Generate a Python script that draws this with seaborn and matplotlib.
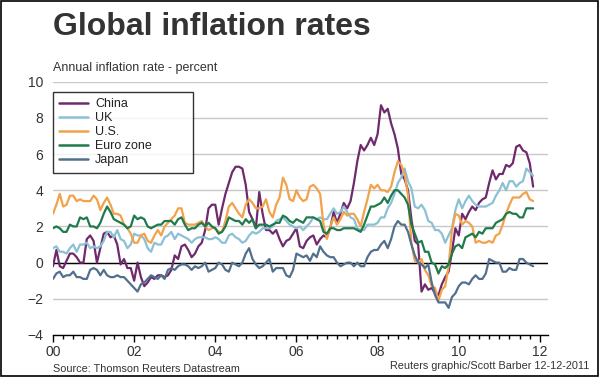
import matplotlib
matplotlib.use("Agg")
import matplotlib.pyplot as plt
from matplotlib.patches import Rectangle
from matplotlib.ticker import MultipleLocator
import numpy as np
import pandas as pd
import seaborn as sns

sns.set_theme(style="white")
plt.rcParams['font.family'] = ['Liberation Sans', 'DejaVu Sans']

# monthly annual inflation rates, Jan 2000 - Nov 2011
china = [-0.2, 0.7, -0.2, -0.3, 0.1, 0.5, 0.5, 0.3, 0.0, 0.0, 1.3, 1.5,
         1.2, 0.0, 0.8, 1.6, 1.7, 1.4, 1.5, 1.0, -0.1, 0.2, -0.3, -0.3,
         -1.0, 0.0, -0.8, -1.3, -1.1, -0.8, -0.9, -0.7, -0.7, -0.8, -0.7, -0.4,
         0.4, 0.2, 0.9, 1.0, 0.7, 0.3, 0.5, 0.9, 1.1, 1.8, 3.0, 3.2,
         3.2, 2.1, 3.0, 3.8, 4.4, 5.0, 5.3, 5.3, 5.2, 4.3, 2.8, 2.4,
         1.9, 3.9, 2.7, 1.8, 1.8, 1.6, 1.8, 1.3, 0.9, 1.2, 1.3, 1.6,
         1.9, 0.9, 0.8, 1.2, 1.4, 1.5, 1.0, 1.3, 1.5, 1.4, 1.9, 2.8,
         2.2, 2.7, 3.3, 3.0, 3.4, 4.4, 5.6, 6.5, 6.2, 6.5, 6.9, 6.5,
         7.1, 8.7, 8.3, 8.5, 7.7, 7.1, 6.3, 4.9, 4.6, 4.0, 2.4, 1.2,
         1.0, -1.6, -1.2, -1.5, -1.4, -1.7, -1.8, -1.2, -0.8, -0.5, 0.6, 1.9,
         1.5, 2.7, 2.4, 2.8, 3.1, 2.9, 3.3, 3.5, 3.6, 4.4, 5.1, 4.6,
         4.9, 4.9, 5.4, 5.3, 5.5, 6.4, 6.5, 6.2, 6.1, 5.5, 4.2]
uk = [0.8, 0.9, 0.6, 0.6, 0.5, 0.8, 1.0, 0.6, 1.0, 1.0, 1.1, 0.8,
      0.9, 0.8, 0.9, 1.2, 1.7, 1.7, 1.4, 1.8, 1.3, 1.2, 0.8, 1.0,
      1.6, 1.5, 1.5, 1.3, 0.8, 0.6, 1.1, 1.0, 1.0, 1.4, 1.5, 1.7,
      1.3, 1.6, 1.5, 1.4, 1.3, 1.1, 1.3, 1.4, 1.4, 1.4, 1.3, 1.3,
      1.4, 1.3, 1.1, 1.1, 1.5, 1.6, 1.4, 1.3, 1.1, 1.2, 1.5, 1.7,
      1.6, 1.7, 1.9, 1.9, 1.9, 2.0, 2.3, 2.4, 2.5, 2.3, 2.1, 2.0,
      1.9, 2.0, 1.8, 2.0, 2.2, 2.5, 2.4, 2.5, 2.4, 2.4, 2.7, 3.0,
      2.7, 2.8, 3.1, 2.8, 2.5, 2.4, 1.9, 1.8, 1.8, 2.1, 2.1, 2.1,
      2.2, 2.5, 2.5, 3.0, 3.3, 3.8, 4.4, 4.7, 5.2, 4.5, 4.1, 3.1,
      3.0, 3.2, 2.9, 2.3, 2.2, 1.8, 1.8, 1.6, 1.1, 1.5, 1.9, 2.9,
      3.5, 3.0, 3.4, 3.7, 3.4, 3.2, 3.1, 3.1, 3.1, 3.2, 3.3, 3.7,
      4.0, 4.4, 4.0, 4.5, 4.5, 4.2, 4.4, 4.5, 5.2, 5.0, 4.8]
us = [2.7, 3.2, 3.8, 3.1, 3.2, 3.7, 3.7, 3.4, 3.5, 3.4, 3.4, 3.4,
      3.7, 3.5, 2.9, 3.3, 3.6, 3.2, 2.7, 2.7, 2.6, 2.1, 1.9, 1.6,
      1.1, 1.1, 1.5, 1.6, 1.2, 1.1, 1.5, 1.8, 1.5, 2.0, 2.2, 2.4,
      2.6, 3.0, 3.0, 2.2, 2.1, 2.1, 2.1, 2.2, 2.3, 2.0, 1.8, 1.9,
      1.9, 1.7, 1.7, 2.3, 3.1, 3.3, 3.0, 2.7, 2.5, 3.2, 3.5, 3.3,
      3.0, 3.0, 3.1, 3.5, 2.8, 2.5, 3.2, 3.6, 4.7, 4.3, 3.5, 3.4,
      4.0, 3.6, 3.4, 3.5, 4.2, 4.3, 4.1, 3.8, 2.1, 1.3, 2.0, 2.5,
      2.1, 2.4, 2.8, 2.6, 2.7, 2.7, 2.4, 2.0, 2.8, 3.5, 4.3, 4.1,
      4.3, 4.0, 4.0, 3.9, 4.2, 5.0, 5.6, 5.4, 4.9, 3.7, 1.1, 0.1,
      0.0, 0.2, -0.4, -0.7, -1.3, -1.4, -2.1, -1.5, -1.3, -0.2, 1.8, 2.7,
      2.6, 2.1, 2.3, 2.2, 2.0, 1.1, 1.2, 1.1, 1.1, 1.2, 1.1, 1.5,
      1.6, 2.1, 2.7, 3.2, 3.6, 3.6, 3.6, 3.8, 3.9, 3.5, 3.4]
euro_zone = [1.9, 2.0, 1.9, 1.7, 1.7, 2.1, 2.0, 2.0, 2.5, 2.4, 2.5, 2.0,
             2.0, 1.9, 2.2, 2.7, 3.1, 2.8, 2.4, 2.3, 2.2, 2.1, 1.9, 2.0,
             2.6, 2.4, 2.5, 2.4, 2.0, 1.9, 2.0, 2.1, 2.1, 2.3, 2.3, 2.3,
             2.1, 2.4, 2.5, 2.1, 1.8, 1.9, 1.9, 2.1, 2.2, 2.0, 2.2, 2.0,
             1.9, 1.6, 1.7, 2.0, 2.5, 2.4, 2.3, 2.3, 2.1, 2.4, 2.2, 2.4,
             1.9, 2.1, 2.1, 2.1, 2.0, 2.1, 2.2, 2.2, 2.6, 2.5, 2.3, 2.2,
             2.4, 2.3, 2.2, 2.5, 2.5, 2.5, 2.4, 2.3, 1.7, 1.6, 1.9, 1.9,
             1.8, 1.8, 1.9, 1.9, 1.9, 1.9, 1.8, 1.7, 2.1, 2.6, 3.1, 3.1,
             3.2, 3.3, 3.6, 3.3, 3.7, 4.0, 4.0, 3.8, 3.6, 3.2, 2.1, 1.6,
             1.1, 1.2, 0.6, 0.6, 0.0, -0.1, -0.6, -0.2, -0.3, -0.1, 0.5, 0.9,
             1.0, 0.8, 1.4, 1.5, 1.6, 1.4, 1.7, 1.6, 1.9, 1.9, 1.9, 2.2,
             2.3, 2.4, 2.7, 2.8, 2.7, 2.7, 2.5, 2.5, 3.0, 3.0, 3.0]
japan = [-0.9, -0.6, -0.5, -0.8, -0.7, -0.7, -0.5, -0.8, -0.8, -0.9, -0.9, -0.4,
         -0.3, -0.4, -0.7, -0.4, -0.7, -0.8, -0.8, -0.7, -0.8, -0.8, -1.0, -1.2,
         -1.4, -1.6, -1.2, -1.1, -0.9, -0.7, -0.8, -0.9, -0.7, -0.9, -0.4, -0.3,
         -0.4, -0.2, -0.1, -0.1, -0.2, -0.4, -0.2, -0.3, -0.2, 0.0, -0.5, -0.4,
         -0.3, 0.0, -0.1, -0.4, -0.5, 0.0, -0.1, -0.2, 0.0, 0.5, 0.8, 0.2,
         -0.1, -0.3, -0.2, 0.0, 0.2, -0.5, -0.3, -0.3, -0.3, -0.7, -0.8, -0.4,
         0.5, 0.4, 0.3, 0.4, 0.1, 0.5, 0.3, 0.9, 0.6, 0.4, 0.3, 0.3,
         0.0, -0.2, -0.1, 0.0, 0.0, -0.2, 0.0, -0.2, -0.2, 0.3, 0.6, 0.7,
         0.7, 1.0, 1.2, 0.8, 1.3, 2.0, 2.3, 2.1, 2.1, 1.7, 1.0, 0.4,
         0.0, -0.1, -0.3, -0.1, -1.1, -1.8, -2.2, -2.2, -2.2, -2.5, -1.9, -1.7,
         -1.3, -1.1, -1.1, -1.2, -0.9, -0.7, -0.9, -0.9, -0.6, 0.2, 0.1, 0.0,
         0.0, -0.5, -0.5, -0.3, -0.4, -0.4, 0.2, 0.2, 0.0, -0.1, -0.2]

series = {'China': china, 'UK': uk, 'U.S.': us, 'Euro zone': euro_zone, 'Japan': japan}
colors = ['#6e2a6c', '#8cc0d4', '#f2a24a', '#1f7a4c', '#52708e']

frames = []
for name, vals in series.items():
    frames.append(pd.DataFrame({'year': 2000 + np.arange(len(vals)) / 12,
                                'rate': vals, 'region': name}))
df = pd.concat(frames, ignore_index=True)

fig = plt.figure(figsize=(5.99, 3.81), dpi=100)
ax_h = (335 - 81.7) / 381
ax = fig.add_axes([53 / 599, 1 - 335 / 381, 495 / 599, ax_h])

ax.set_yticks(range(-4, 11, 2))
ax.yaxis.grid(True, color='#c8c8c8', linewidth=1)
ax.set_axisbelow(True)
ax.axhline(0, color='black', linewidth=1, zorder=1.5)

sns.lineplot(data=df, x='year', y='rate', hue='region', palette=colors,
             linewidth=1.6, ax=ax)

ax.set_xlim(2000, 2012.2)
ax.set_ylim(-4, 10)
ax.xaxis.set_minor_locator(MultipleLocator(0.25))
ax.set_xticks(range(2000, 2013, 2))
ax.set_xticklabels(['00', '02', '04', '06', '08', '10', '12'])
ax.set_xlabel('')
ax.set_ylabel('')
for s in ['left', 'top', 'right']:
    ax.spines[s].set_visible(False)
ax.spines['bottom'].set_color('black')
ax.spines['bottom'].set_linewidth(1)
ax.tick_params(axis='x', which='major', direction='out', length=5, width=1,
               color='black', labelsize=10, labelcolor='#333333', pad=2, bottom=True)
ax.tick_params(axis='x', which='minor', direction='out', length=3, width=1,
               color='black', bottom=True)
ax.tick_params(axis='y', length=0, labelsize=10, labelcolor='#333333', pad=7)

# legend box: x 53-193 px, y 92-168 px
leg_w = 140 / 495
leg_h = 76 / 253.3
leg_top = (335 - 92) / 253.3
leg = ax.legend(loc='upper left', bbox_to_anchor=(0, leg_top - leg_h, leg_w, leg_h),
                mode='expand', borderaxespad=0,
                fontsize=9, frameon=True, fancybox=False, handlelength=2.3,
                handletextpad=0.55, labelspacing=0.16, borderpad=0.5)
leg.get_frame().set_edgecolor('black')
leg.get_frame().set_linewidth(1)
for t in leg.get_texts():
    t.set_color('#222222')
for l in leg.get_lines():
    l.set_linewidth(1.8)

fig.text(53 / 599, 1 - 35 / 381, 'Global inflation rates', fontsize=23,
         fontweight='bold', color='#333333', va='baseline', ha='left')
fig.text(53 / 599, 1 - 68 / 381, 'Annual inflation rate - percent', fontsize=9,
         color='#333333', va='center', ha='left')
fig.text(53 / 599, 1 - 369 / 381, 'Source: Thomson Reuters Datastream', fontsize=7.8,
         color='#333333', va='center', ha='left')
fig.text(589 / 599, 1 - 366 / 381, 'Reuters graphic/Scott Barber 12-12-2011',
         fontsize=7.8, color='#333333', va='center', ha='right')

fig.patches.append(Rectangle((1 / 599, 1 - 376 / 381), 597 / 599, 375 / 381,
                             transform=fig.transFigure, fill=False,
                             edgecolor='black', linewidth=1.2))

fig.savefig('out.png', dpi=100, facecolor='white')
